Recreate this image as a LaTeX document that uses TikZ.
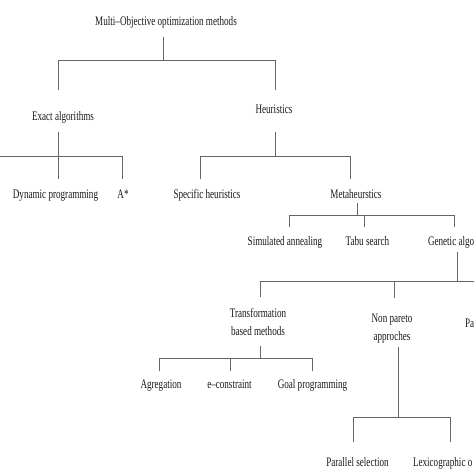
\documentclass[tikz,border=0pt]{standalone}
\usepackage{fontspec}
\setmainfont{Liberation Serif}[FakeStretch=0.7]
\begin{document}
\begin{tikzpicture}[x=1pt,y=-1pt,
  lbl/.style={inner sep=0pt,outer sep=0pt,text=black!90,font=\fontsize{13}{18}\selectfont},
  lbl2/.style={lbl,align=center,anchor=north},
  conn/.style={draw=black!60,line width=0.8pt}]
\useasboundingbox (0,0) rectangle (474,474);
\clip (0,0) rectangle (474,474);
\fill[white] (0,0) rectangle (474,474);
% nodes
\node[lbl,anchor=base] (root) at (166,25) {Multi–Objective optimization methods};
\node[lbl,anchor=base] (exact) at (63,120) {Exact algorithms};
\node[lbl,anchor=base] (heur) at (274,113) {Heuristics};
\node[lbl,anchor=base] (dyn) at (55.5,198) {Dynamic programming};
\node[lbl,anchor=base] (astar) at (123,198) {A*};
\node[lbl,anchor=base] (spec) at (207,198) {Specific heuristics};
\node[lbl,anchor=base] (meta) at (356,198) {Metaheurstics};
\node[lbl,anchor=base] (sim) at (285,245) {Simulated annealing};
\node[lbl,anchor=base] (tabu) at (367.5,245) {Tabu search};
\node[lbl,anchor=base west] (gen) at (428,245) {Genetic algo};
\node[lbl2] (trans) at (258,308) {Transformation\\based methods};
\node[lbl2] (nonpar) at (392,314) {Non pareto\\approches};
\node[lbl,anchor=base west] (par) at (465,327) {Pa};
\node[lbl,anchor=base] (agreg) at (161,388) {Agregation};
\node[lbl,anchor=base] (econ) at (229.5,388) {e–constraint};
\node[lbl,anchor=base] (goal) at (312.5,388) {Goal programming};
\node[lbl,anchor=base] (psel) at (357.5,466) {Parallel selection};
\node[lbl,anchor=base west] (lex) at (413,466) {Lexicographic o};
\coordinate (offl) at (-30,179);
\coordinate (offr) at (500,297);
% connectors
\draw[conn] ([shift={(-3,12)}]root.base) -- ++(0,23) coordinate (j1);
\draw[conn] (j1) -| ([shift={(-5,-30)}]exact.base);
\draw[conn] (j1) -| ([shift={(1,-23)}]heur.base);

\draw[conn] ([shift={(-5,12)}]exact.base) -- ++(0,24) coordinate (j2);
\draw[conn] (j2) -| (offl);
\draw[conn] (j2) -| ([shift={(2.5,-19)}]dyn.base);
\draw[conn] (j2) -| ([shift={(-1,-19)}]astar.base);

\draw[conn] ([shift={(1,19)}]heur.base) -- ++(0,24) coordinate (j3);
\draw[conn] (j3) -| ([shift={(-7,-19)}]spec.base);
\draw[conn] (j3) -| ([shift={(-6,-19)}]meta.base);

\draw[conn] ([shift={(1,5)}]meta.base) -- ++(0,12) coordinate (j4);
\draw[conn] (j4) -| ([shift={(4,-18)}]sim.base);
\draw[conn] (j4) -| ([shift={(-3.5,-18)}]tabu.base);
\draw[conn] (j4) -| ([shift={(26,-18)}]gen.base west);

\draw[conn] ([shift={(29,7)}]gen.base west) -- ++(0,29) coordinate (j5);
\draw[conn] (j5) -| ([shift={(2,-11)}]trans.north);
\draw[conn] (j5) -| ([shift={(2,-16)}]nonpar.north);
\draw[conn] (j5) -| (offr);

\draw[conn] ([shift={(2,11)}]trans.south) -- ++(0,12) coordinate (j6);
\draw[conn] (j6) -| ([shift={(-2,-17)}]agreg.base);
\draw[conn] (j6) -| ([shift={(0.5,-17)}]econ.base);
\draw[conn] (j6) -| ([shift={(-0.5,-17)}]goal.base);

\draw[conn] ([shift={(6,3.5)}]nonpar.south) -- ++(0,71) coordinate (j7);
\draw[conn] (j7) -| ([shift={(-4.5,-24)}]psel.base);
\draw[conn] (j7) -| ([shift={(37,-24)}]lex.base west);
\end{tikzpicture}
\end{document}
